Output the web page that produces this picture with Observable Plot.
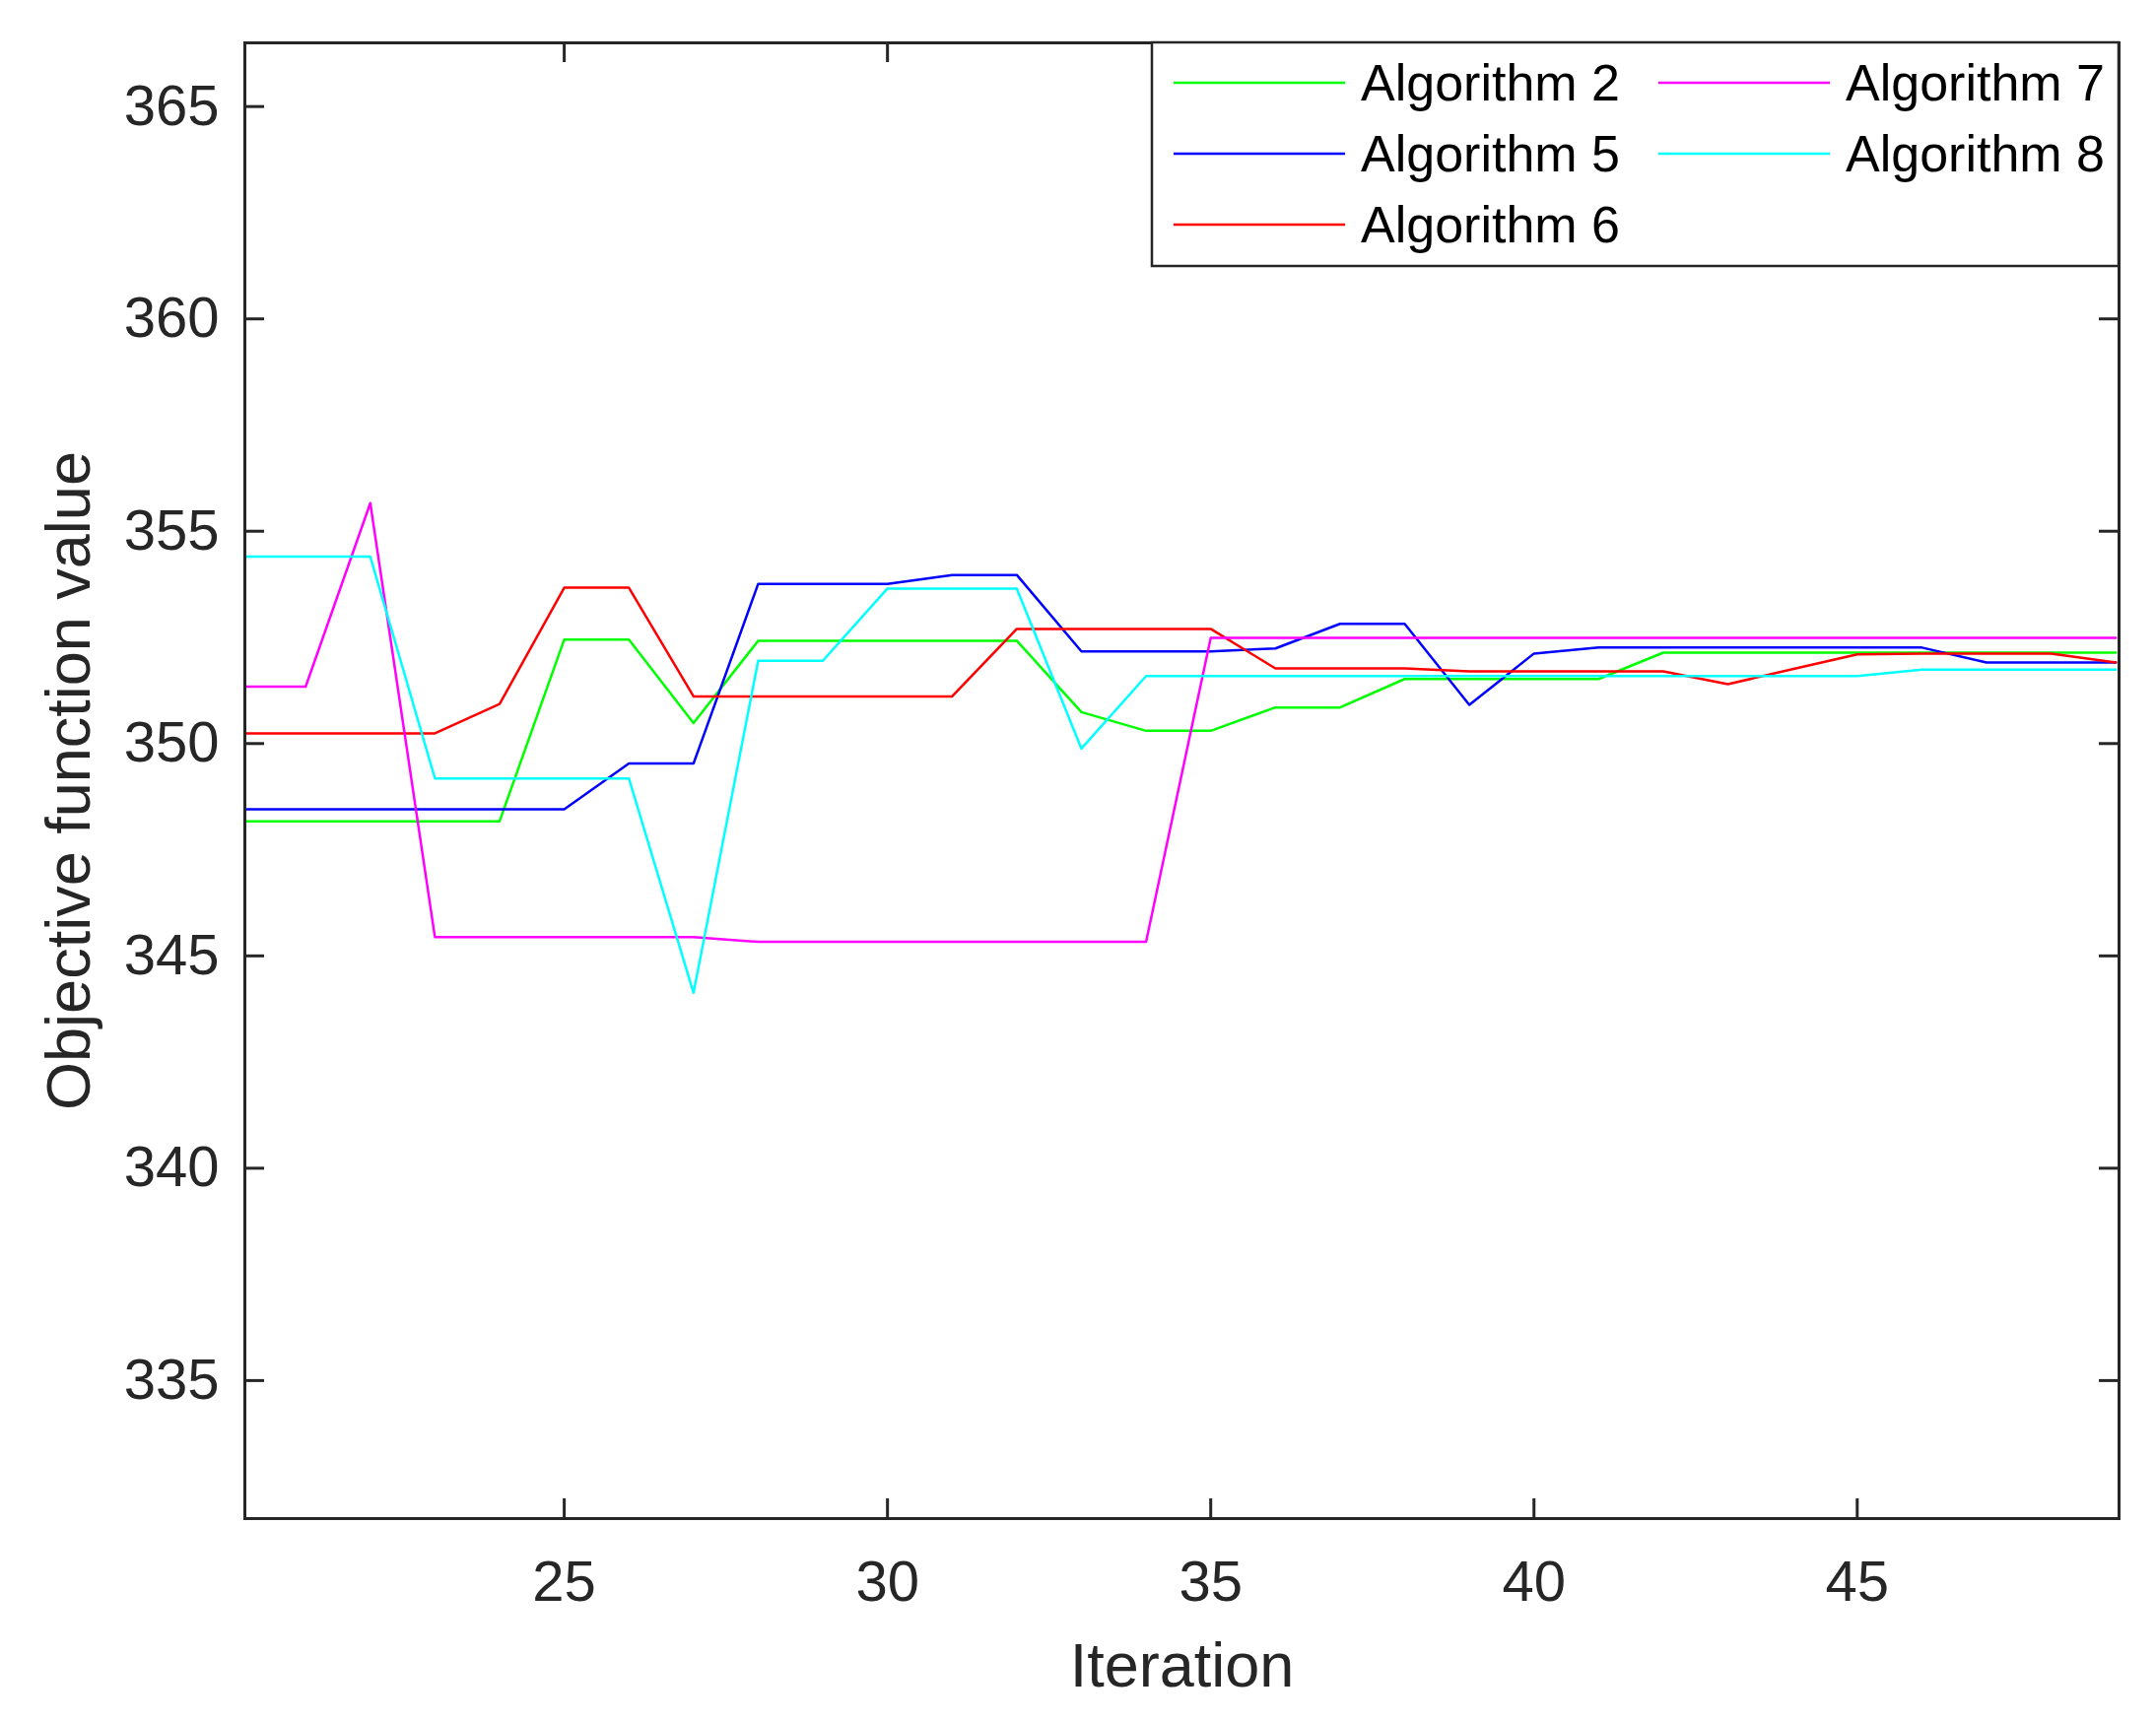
<!DOCTYPE html>
<html>
<head>
<meta charset="utf-8">
<script src="https://cdn.jsdelivr.net/npm/d3@7"></script>
<script src="https://cdn.jsdelivr.net/npm/@observablehq/plot@0.6"></script>
<style>
  html, body { margin: 0; padding: 0; background: white; }
  #chart { width: 2188px; height: 1748px; }
</style>
</head>
<body>
<div id="chart"></div>
<script>
// ---- data ----
const iterations = d3.range(20, 50);
const alg2 = [348.17,348.17,348.17,348.17,348.17,352.45,352.45,350.48,352.42,352.42,352.42,352.42,352.42,350.74,350.30,350.30,350.85,350.85,351.52,351.52,351.52,351.52,352.14,352.14,352.14,352.14,352.14,352.14,352.14,352.14];
const alg5 = [348.45,348.45,348.45,348.45,348.45,348.45,349.53,349.53,353.76,353.76,353.76,353.97,353.97,352.17,352.17,352.17,352.24,352.82,352.82,350.91,352.12,352.26,352.26,352.26,352.26,352.26,352.26,351.91,351.91,351.91];
const alg6 = [350.24,350.24,350.24,350.24,350.93,353.67,353.67,351.11,351.11,351.11,351.11,351.11,352.70,352.70,352.70,352.70,351.77,351.77,351.77,351.70,351.70,351.70,351.70,351.40,351.75,352.10,352.12,352.12,352.12,351.91];
const alg7 = [351.34,351.34,355.66,345.44,345.44,345.44,345.44,345.44,345.33,345.33,345.33,345.33,345.33,345.33,345.33,352.49,352.49,352.49,352.49,352.49,352.49,352.49,352.49,352.49,352.49,352.49,352.49,352.49,352.49,352.49];
const alg8 = [354.40,354.40,354.40,349.18,349.18,349.18,349.18,344.13,351.95,351.95,353.65,353.65,353.65,349.88,351.59,351.59,351.59,351.59,351.59,351.59,351.59,351.59,351.59,351.59,351.59,351.59,351.74,351.74,351.74,351.74];
const seriesNames = ["Algorithm 2", "Algorithm 5", "Algorithm 6", "Algorithm 7", "Algorithm 8"];
const seriesColors = ["#00ff00", "#0000ff", "#ff0000", "#ff00ff", "#00ffff"];
const xTicks = [25, 30, 35, 40, 45];
const yTicks = [335, 340, 345, 350, 355, 360, 365];
const xLabel = "Iteration";
const yLabel = "Objective function value";

// ---- table ----
const seriesValues = [alg2, alg5, alg6, alg7, alg8];
const table = [];
seriesNames.forEach((name, k) => {
  iterations.forEach((it, i) => table.push({iter: it, value: seriesValues[k][i], series: name}));
});

// ---- layout ----
const W = 2188, H = 1748;
const mL = 248, mR = 38, mT = 43, mB = 207;
const innerW = W - mL - mR, innerH = H - mT - mB;
const tickLen = 20;
const axisColor = "#262626";
const font = "'Liberation Sans', Arial, Helvetica, sans-serif";

const chart = Plot.plot({
  width: W, height: H,
  marginLeft: mL, marginRight: mR, marginTop: mT, marginBottom: mB,
  x: {domain: [20.06, 49.05]},
  y: {domain: [331.75, 366.5]},
  color: {domain: seriesNames, range: seriesColors},
  style: {fontFamily: font, color: axisColor, background: "white", overflow: "visible"},
  marks: [
    Plot.line(table, {x: "iter", y: "value", z: "series", stroke: "series", strokeWidth: 2.5, clip: "frame"}),
    Plot.tickX(xTicks, {x: d => d, insetTop: innerH - tickLen, stroke: axisColor, strokeWidth: 3}),
    Plot.tickX(xTicks, {x: d => d, insetBottom: innerH - tickLen, stroke: axisColor, strokeWidth: 3}),
    Plot.tickY(yTicks, {y: d => d, insetRight: innerW - tickLen, stroke: axisColor, strokeWidth: 3}),
    Plot.tickY(yTicks, {y: d => d, insetLeft: innerW - tickLen, stroke: axisColor, strokeWidth: 3}),
    Plot.frame({stroke: axisColor, strokeWidth: 3}),
    Plot.axisX(xTicks, {tickSize: 0, tickPadding: 42, fontSize: 58, label: null}),
    Plot.axisY(yTicks, {tickSize: 0, tickPadding: 26, fontSize: 58, label: null}),
    Plot.text([xLabel], {text: d => d, frameAnchor: "bottom", dy: 150, fontSize: 63, fill: axisColor, textAnchor: "middle", lineAnchor: "middle"}),
    Plot.text([yLabel], {text: d => d, frameAnchor: "left", dx: -178, rotate: -90, fontSize: 63, fill: axisColor, textAnchor: "middle", lineAnchor: "middle"})
  ]
});

// ---- legend inside the axes (top-right) ----
const svg = d3.select(chart);
const legRight = W - mR, legTop = mT;
const legLeft = 1169, legBottom = 270;
const g = svg.append("g").attr("class", "legend");
g.append("rect")
  .attr("x", legLeft).attr("y", legTop)
  .attr("width", legRight - legLeft).attr("height", legBottom - legTop)
  .attr("fill", "white").attr("stroke", axisColor).attr("stroke-width", 2.5);
seriesNames.forEach((name, i) => {
  const col = Math.floor(i / 3), row = i % 3;
  const y = legTop + 41 + row * 72;
  const x0 = legLeft + 22 + col * 492;
  const x1 = x0 + 174;
  g.append("line").attr("x1", x0).attr("x2", x1).attr("y1", y).attr("y2", y)
    .attr("stroke", seriesColors[i]).attr("stroke-width", 2.5);
  g.append("text").attr("x", x1 + 16).attr("y", y).attr("dy", "0.35em")
    .attr("text-anchor", "start")
    .attr("font-family", font).attr("font-size", 52).attr("fill", "#000")
    .text(name);
});

document.getElementById("chart").appendChild(chart);
</script>
</body>
</html>
